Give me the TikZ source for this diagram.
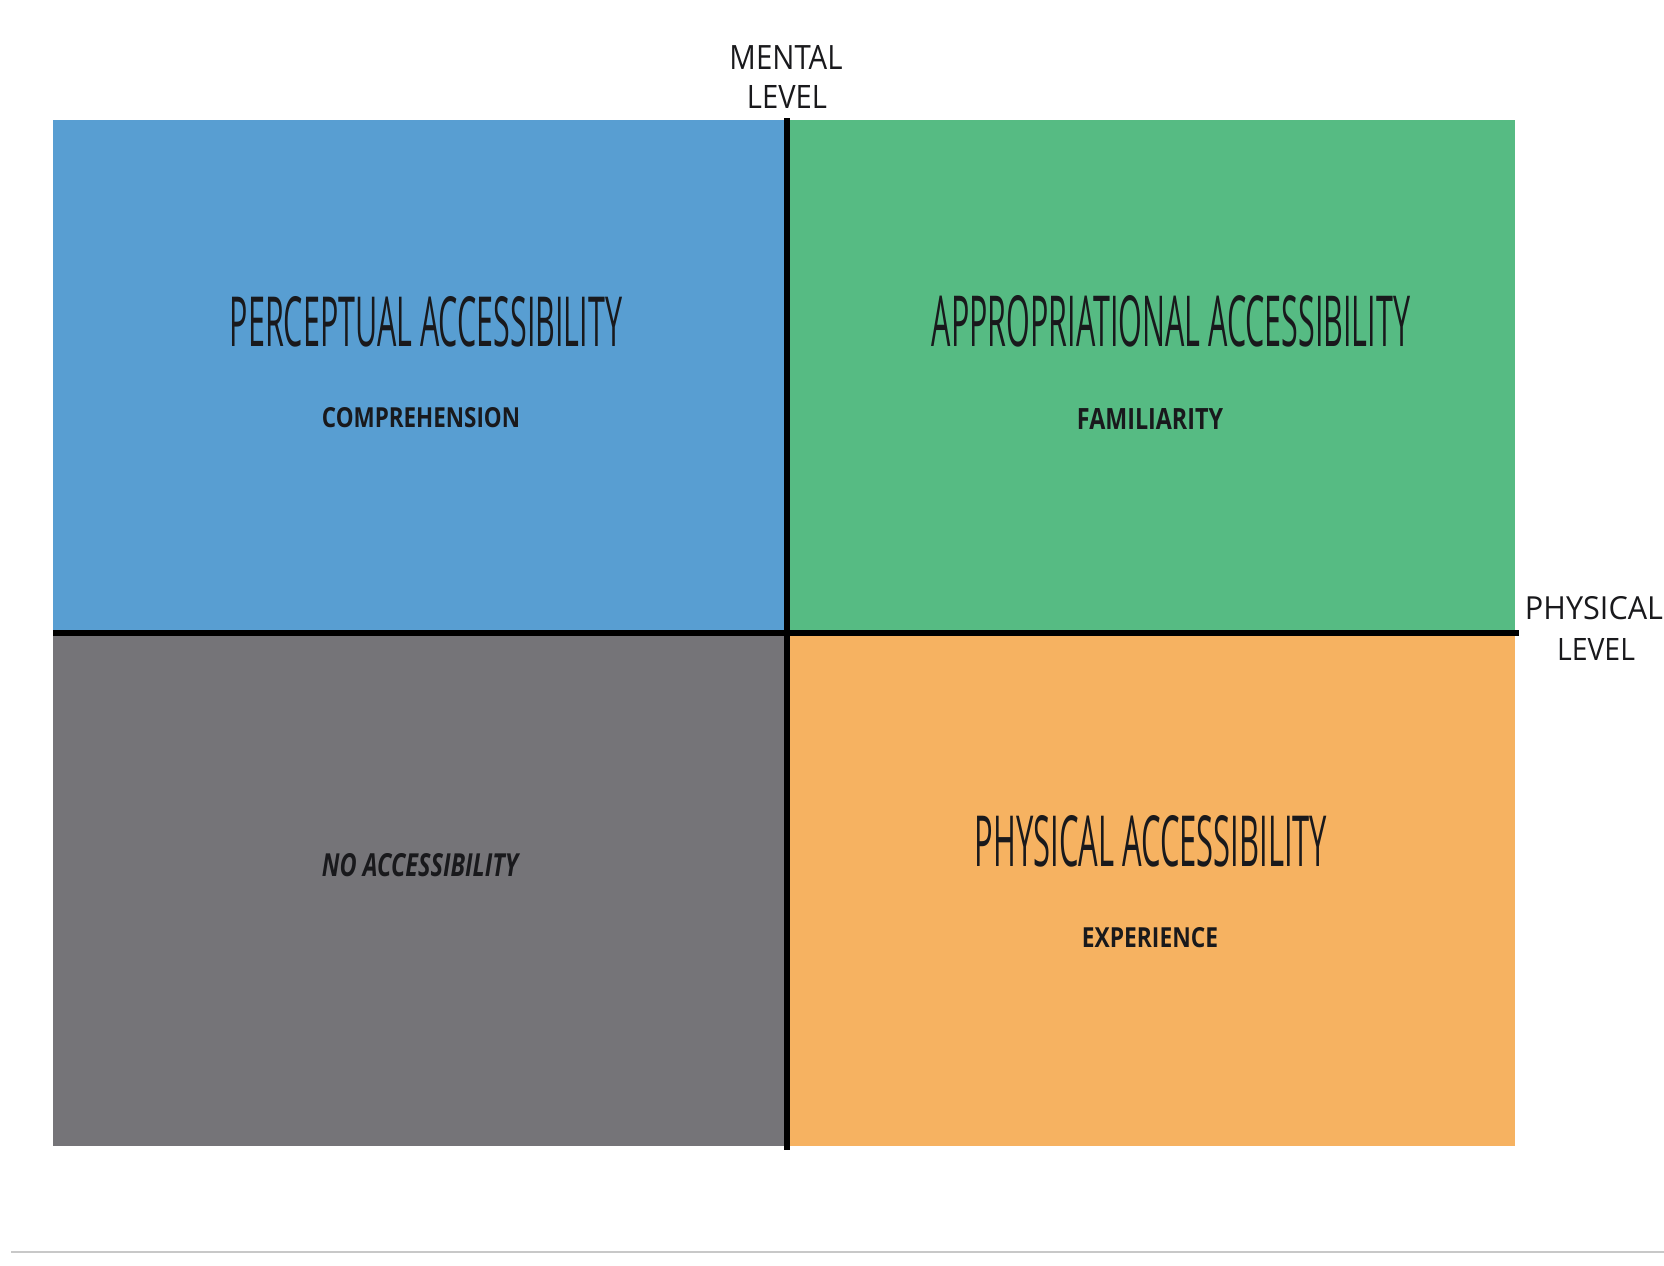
\documentclass[tikz,border=0pt]{standalone}
\usepackage{fontspec}
\setmainfont{Open Sans}
\usepackage{graphicx}
\definecolor{quadblue}{RGB}{88,158,210}
\definecolor{quadgreen}{RGB}{86,187,131}
\definecolor{quadgrey}{RGB}{117,116,120}
\definecolor{quadorange}{RGB}{246,178,97}
\definecolor{rulegrey}{RGB}{200,200,200}
\definecolor{labelink}{RGB}{25,25,28}
\def\fitlabel#1#2#3{\resizebox{#1}{#2}{#3}}

\begin{document}
\begin{tikzpicture}[x=0.01cm, y=-0.01cm, every node/.style={inner sep=0, color=labelink}]
			%%%%% START %%%%%
			
			\useasboundingbox (0, 0) rectangle (1664, 1265);
			
			\fill[quadblue] (53, 120) rectangle (787, 633);
			\fill[quadgreen] (787, 120) rectangle (1515, 633);
			\fill[quadgrey] (53, 633) rectangle (787, 1146);
			\fill[quadorange] (787, 633) rectangle (1515, 1146);
			
			\coordinate (mentaltop) at (787, 118);
			\coordinate (mentalbottom) at (787, 1150);
			\coordinate (physicalleft) at (53, 633);
			\coordinate (physicalright) at (1519, 633);
			
			\draw[line width=0.065cm, color=black] (mentaltop) -- (mentalbottom);
			\draw[line width=0.06cm, color=black] (physicalleft) -- (physicalright);
			
			\node (mental) at (786, 57) {\fitlabel{1.13cm}{0.24cm}{MENTAL}};
			\node (mentallevel) at (787, 97) {\fitlabel{0.80cm}{0.23cm}{LEVEL}};
			\node (physical) at (1594, 608) {\fitlabel{1.38cm}{0.23cm}{PHYSICAL}};
			\node (physicallevel) at (1596, 649) {\fitlabel{0.78cm}{0.22cm}{LEVEL}};
			
			\node (perceptual) at (426, 322) {\fitlabel{3.92cm}{0.50cm}{PERCEPTUAL ACCESSIBILITY}};
			\node (comprehension) at (421, 418) {\fitlabel{1.98cm}{0.20cm}{\bfseries COMPREHENSION}};
			
			\node (appropriational) at (1171, 321) {\fitlabel{4.78cm}{0.51cm}{APPROPRIATIONAL ACCESSIBILITY}};
			\node (familiarity) at (1150, 419) {\fitlabel{1.46cm}{0.21cm}{\bfseries FAMILIARITY}};
			
			\node (physicalacc) at (1151, 841) {\fitlabel{3.52cm}{0.51cm}{PHYSICAL ACCESSIBILITY}};
			\node (experience) at (1150, 938) {\fitlabel{1.36cm}{0.20cm}{\bfseries EXPERIENCE}};
			
			\node (noaccess) at (420, 865) {\fitlabel{1.96cm}{0.23cm}{\bfseries\itshape NO ACCESSIBILITY}};
			
			\coordinate (ruleleft) at (11, 1252);
			\coordinate (ruleright) at (1664, 1252);
			\draw[line width=0.02cm, color=rulegrey] (ruleleft) -- (ruleright);
			
			%%%%% END %%%%%
		\end{tikzpicture}
\end{document}
